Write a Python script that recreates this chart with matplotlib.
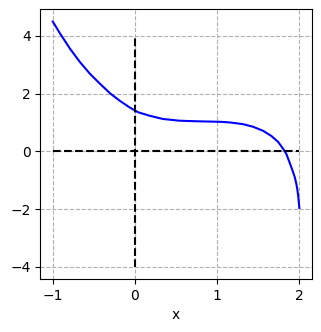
import matplotlib
matplotlib.use("Agg")
import matplotlib.pyplot as plt

# curve values
x_curve = [-1.0, -0.91, -0.79, -0.67, -0.55, -0.43, -0.30, -0.18, -0.06, 0.04,
           0.18, 0.34, 0.54, 0.75, 0.91, 1.05, 1.154, 1.316, 1.437, 1.559,
           1.66, 1.74, 1.80, 1.84, 1.883, 1.915, 1.944, 1.965, 1.977, 1.988,
           1.996, 2.0]
y_curve = [4.49, 4.07, 3.55, 3.09, 2.69, 2.35, 2.00, 1.74, 1.51, 1.35,
           1.23, 1.12, 1.06, 1.04, 1.03, 1.02, 1.00, 0.94, 0.85, 0.71,
           0.53, 0.33, 0.10, -0.08, -0.40, -0.65, -0.89, -1.15, -1.35, -1.60,
           -1.85, -1.96]

# dashed reference lines
hline_x = [-1, 2]
hline_y = [0, 0]
vline_x = [0, 0]
vline_y = [-4, 4]

fig = plt.figure(figsize=(3.21, 3.32), dpi=100)
ax = fig.add_axes([0.126, 0.159, 0.845, 0.813])

ax.plot(x_curve, y_curve, color="b")
ax.plot(hline_x, hline_y, "k--")
ax.plot(vline_x, vline_y, "k--")

ax.set_xticks([-1, 0, 1, 2])
ax.set_yticks([-4, -2, 0, 2, 4])
ax.grid(linestyle="--")
ax.set_xlabel("x")

fig.savefig("out.png", dpi=100)
